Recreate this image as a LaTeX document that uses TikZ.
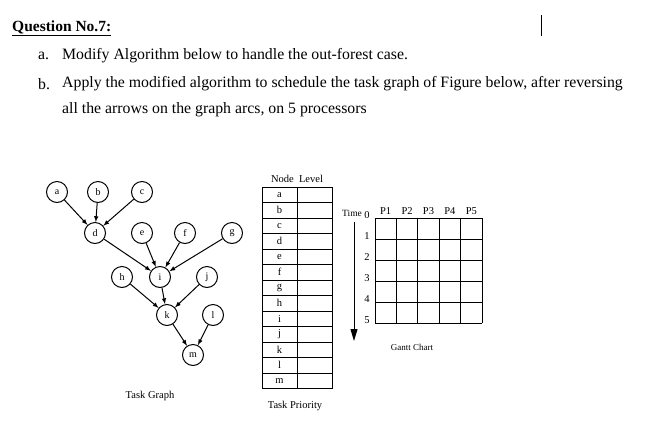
\documentclass[tikz,border=0pt]{standalone}
\usepackage{fontspec}
\setmainfont{Liberation Serif}
\usetikzlibrary{arrows.meta}
\begin{document}
\begin{tikzpicture}[x=1pt,y=-1pt,
  tn/.style={circle,draw,line width=1pt,minimum size=21pt,inner sep=0pt,font=\fontsize{10}{11}\selectfont},
  ar/.style={-latex,line width=1pt},
  txt/.style={anchor=west,inner sep=0pt,font=\fontsize{15.8}{18}\selectfont},
  sm/.style={inner sep=0pt,font=\fontsize{10.5}{12}\selectfont}]
\useasboundingbox (0,0) rectangle (670,432);
\node[txt,font=\fontsize{15.5}{18}\selectfont\bfseries] (q) at (12,28) {\underline{Question No.7:}};
\draw (541,15) -- (541,36);
\node[txt] (la) at (38,56) {a.};
\node[txt] (ta) at (62,56) {Modify Algorithm below to handle the out-forest case.};
\node[txt] (lb) at (38,84) {b.};
\node[txt] (tb) at (62,84) {Apply the modified algorithm to schedule the task graph of Figure below, after reversing};
\node[txt] (tc) at (62,110) {all the arrows on the graph arcs, on 5 processors};
% graph
\foreach \n/\x/\y in {a/57/192,b/98/192,c/142/192,d/95/233,e/142/233,f/185/233,g/232/233,h/122/277,i/160/277,j/207/277,k/167/315,l/213/315,m/193/355}
  \node[tn] (\n) at (\x,\y) {\n};
\foreach \s/\t in {a/d,b/d,c/d,d/i,e/i,f/i,g/i,i/k,h/k,j/k,k/m,l/m}
  \draw[ar] (\s) -- (\t);
\node[sm] (tg) at (150,396) {Task Graph};
% table
\node[sm] (hd) at (297,179) {Node\ \ Level};
\foreach \n [count=\r from 0] in {a,b,c,d,e,f,g,h,i,j,k,l,m}{
  \draw[line width=1pt] (262,187+15.5*\r) rectangle (332,202.5+15.5*\r);
  \node[sm] (r\n) at (279.5,194.75+15.5*\r) {\n};
}
\draw[line width=1pt] (297,187) -- (297,388.5);
\node[sm] (tp) at (295,406) {Task Priority};
% gantt
\foreach \c in {0,...,5} \draw[line width=1pt] (375+21.4*\c,218) -- (375+21.4*\c,323);
\foreach \t in {0,...,5} \draw[line width=1pt] (375,218+21*\t) -- (482,218+21*\t);
\foreach \p [count=\c from 0] in {P1,P2,P3,P4,P5}
  \node[sm] (p\c) at (385.7+21.4*\c,211) {\p};
\foreach \t in {0,...,5}
  \node[sm] (t\t) at (367,218+21*\t-3) {\t};
\node[sm,font=\fontsize{9.5}{10}\selectfont] (time) at (352,213) {Time};
\coordinate (as) at (354,222);
\coordinate (ae) at (354,341);
\draw[line width=1pt,-{Triangle[width=7pt,length=12pt]}] (as) -- (ae);
\node[sm,font=\fontsize{9}{10}\selectfont] (gc) at (412,347) {Gantt Chart};
\end{tikzpicture}
\end{document}
